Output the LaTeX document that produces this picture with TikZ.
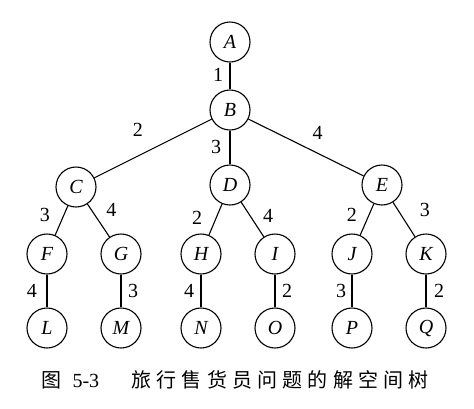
\documentclass[tikz,border=0pt]{standalone}
\usepackage{fontspec}
\setmainfont{Liberation Serif}
\newfontfamily\cjk{Noto Sans CJK SC}
\usetikzlibrary{positioning}

\begin{document}
\begin{tikzpicture}[-,x=1pt,y=-1pt,line width=1.1pt]
	\tikzstyle{vert}=[draw, circle, minimum size=40pt, inner sep=0pt, line width=1.1pt, font=\fontsize{20}{22}\selectfont\itshape]
	\tikzstyle{cost}=[font=\fontsize{20}{22}\selectfont, inner sep=0pt]
	\useasboundingbox (0,0) rectangle (474,408);
	% levels
	\node[vert] (A) at (230,42) {A};
	\node[vert] (B) at (230,110) {B};
	\node[vert] (C) at (76,187) {C};
	\node[vert] (D) at (230,185) {D};
	\node[vert] (E) at (382,185) {E};
	\node[vert] (F) at (47,254) {F};
	\node[vert] (G) at (121,254) {G};
	\node[vert] (H) at (201,254) {H};
	\node[vert] (I) at (275,254) {I};
	\node[vert] (J) at (352,254) {J};
	\node[vert] (K) at (426,254) {K};
	\node[vert] (L) at (47,328) {L};
	\node[vert] (M) at (121,328) {M};
	\node[vert] (N) at (201,328) {N};
	\node[vert] (O) at (275,328) {O};
	\node[vert] (P) at (352,328) {P};
	\node[vert] (Q) at (426,328) {Q};

	\draw (A) -- node[cost,pos=0.46,xshift=-12pt] {1} (B);
	\draw (B) -- node[cost,pos=0.63,yshift=26pt] {2} (C);
	\draw (B) -- node[cost,pos=0.48,xshift=-14pt] {3} (D);
	\draw (B) -- node[cost,pos=0.6,yshift=20pt] {4} (E);
	\foreach \i/\j/\c/\p/\x in {C/F/3/0.31/-19,C/G/4/0.18/20,D/H/2/0.45/-19,D/I/4/0.4/18,E/J/2/0.36/-17,E/K/3/0.22/27}{
		\draw (\i) -- node[cost,pos=\p,xshift=\x pt] {\c} (\j);
	}
	\foreach \i/\j/\c/\x in {F/L/4/-15,G/M/3/12,H/N/4/-12,I/O/2/12,J/P/3/-11,K/Q/2/13}{
		\draw (\i) -- node[cost,xshift=\x pt] {\c} (\j);
	}

	% caption
	\node[font=\fontsize{20}{22}\selectfont\cjk, anchor=west, inner sep=0pt] (fig) at (41,380) {图};
	\node[font=\fontsize{20}{22}\selectfont, anchor=west, inner sep=0pt] (num) at (72,381) {5-3};
	\node[font=\fontsize{20}{22}\selectfont\cjk, anchor=west, inner sep=0pt] (title) at (131,380)
		{旅\kern5.2pt 行\kern5.2pt 售\kern5.2pt 货\kern5.2pt 员\kern5.2pt 问\kern5.2pt 题\kern5.2pt 的\kern5.2pt 解\kern5.2pt 空\kern5.2pt 间\kern5.2pt 树};
\end{tikzpicture}
\end{document}
